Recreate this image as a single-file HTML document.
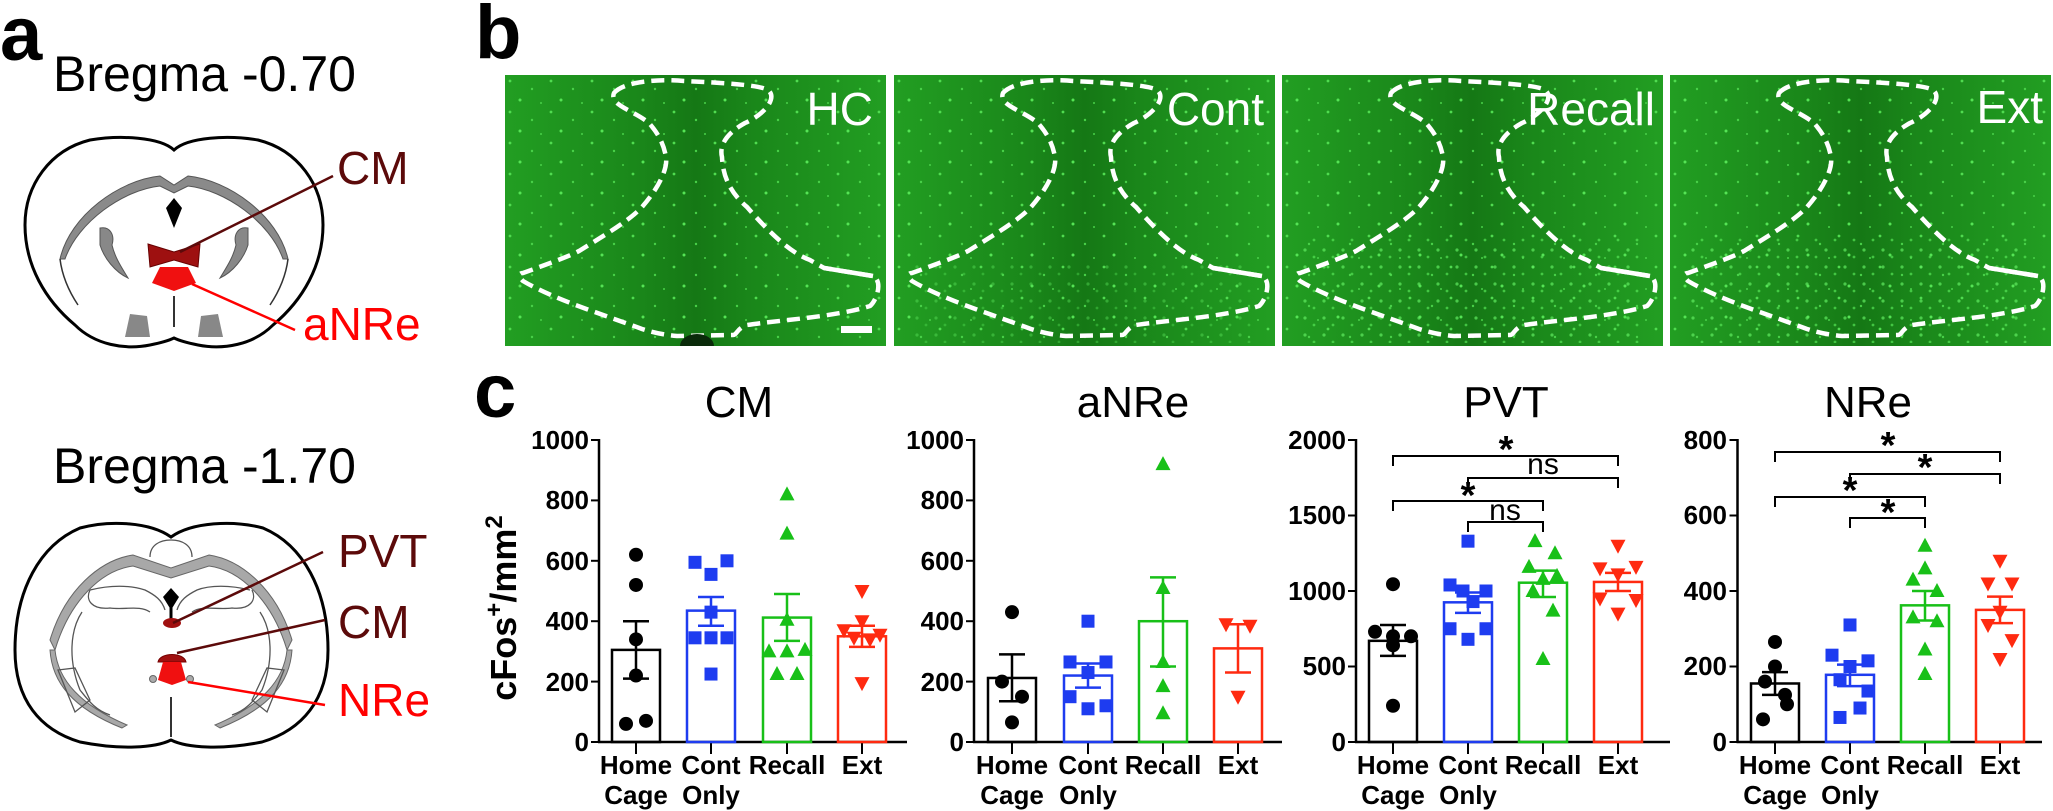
<!DOCTYPE html>
<html><head><meta charset="utf-8"><style>
html,body{margin:0;padding:0;background:#fff;}
svg{display:block;}
text{font-family:"Liberation Sans",Arial,sans-serif;}
.tk{font-size:26px;font-weight:bold;text-anchor:end;}
.xl{font-size:26px;font-weight:bold;text-anchor:middle;}
.ti{font-size:44px;text-anchor:middle;}
.st{font-size:38px;font-weight:bold;text-anchor:middle;}
.ns{font-size:30px;text-anchor:middle;}
.im{font-size:46px;fill:#fff;text-anchor:end;}
</style></head><body>
<svg id="s" width="2053" height="811" viewBox="0 0 2053 811" xmlns="http://www.w3.org/2000/svg">
<defs>
<linearGradient id="gg" x1="0" x2="1" y1="0" y2="0">
<stop offset="0" stop-color="#229e22"/><stop offset="0.35" stop-color="#1a871a"/><stop offset="0.5" stop-color="#157815"/><stop offset="0.65" stop-color="#1a871a"/><stop offset="1" stop-color="#229e22"/></linearGradient>
<pattern id="dots" width="41" height="31" patternUnits="userSpaceOnUse">
<circle cx="5" cy="6" r="1.4" fill="#50dc50"/><circle cx="27" cy="14" r="1.2" fill="#48d048"/><circle cx="15" cy="25" r="1.5" fill="#55e455"/><circle cx="36" cy="28" r="1" fill="#48d048"/></pattern>
<pattern id="dots2" width="19" height="17" patternUnits="userSpaceOnUse">
<circle cx="4" cy="5" r="1.6" fill="#60ec60"/><circle cx="13" cy="12" r="1.4" fill="#55e455"/></pattern>
<path id="roi" d="M109,18 C120,5 160,4 179,6 C220,8 255,10 263,15 C272,22 262,38 240,48 C222,58 214,70 217,82 C218,105 228,120 242,132 C262,155 285,178 305,185 L319,193 L368,201 C378,206 372,225 365,231 C330,242 275,245 242,250 C232,253 232,260 228,260 L172,261 C160,260 150,258 137,254 C100,240 50,225 18,206 C12,200 15,198 18,198 C40,190 65,181 74,176 C100,160 125,145 137,132 C152,115 163,95 161,82 C158,65 150,55 144,48 C128,35 104,30 109,18 Z"/>
</defs>

<!-- panel a -->
<text x="0" y="60" font-size="76" font-weight="bold">a</text>
<text x="53" y="91" font-size="50">Bregma -0.70</text>
<g stroke="#000" stroke-width="3" fill="#fff">
<path d="M174,150 C160,137 120,135 90,140 C50,150 25,185 25,225 C25,265 45,300 75,325 C95,345 125,350 150,345 C165,342 170,340 174,338 C178,340 183,342 198,345 C223,350 253,345 273,325 C303,300 323,265 323,225 C323,185 298,150 258,140 C228,135 188,137 174,150 Z"/>
</g>
<path d="M60,259 C70,215 120,180 160,176 L174,185 L188,176 C228,180 278,215 288,259 L283,259 C270,222 225,190 188,186 L174,193 L160,186 C123,190 78,222 65,259 Z" fill="#8a8a8a" stroke="#555" stroke-width="1"/>
<path d="M60,259 C62,275 68,290 78,305" stroke="#333" stroke-width="1.5" fill="none"/>
<path d="M288,259 C286,275 280,290 270,305" stroke="#333" stroke-width="1.5" fill="none"/>
<path d="M166,208 L174,198 L182,208 L174,228 Z" fill="#000"/>
<path d="M100,228 C110,226 115,235 112,245 C115,258 122,268 128,278 C115,272 104,258 100,245 Z" fill="#888" stroke="#555"/>
<path d="M248,228 C238,226 233,235 236,245 C233,258 226,268 220,278 C233,272 244,258 248,245 Z" fill="#888" stroke="#555"/>
<path d="M125,337 L130,314 L147,316 L150,337 Z" fill="#888"/>
<path d="M223,337 L218,314 L201,316 L198,337 Z" fill="#888"/>
<line x1="174" y1="296" x2="174" y2="327" stroke="#333" stroke-width="2"/>
<path d="M148,244 L174,252 L200,244 L198,267 L174,260 L150,267 Z" fill="#9e1010" stroke="#600" stroke-width="1"/>
<path d="M160,267 L188,267 L196,283 L174,291 L152,283 Z" fill="#f01010"/>
<line x1="333" y1="176" x2="180" y2="252" stroke="#5c0a0a" stroke-width="2.5"/>
<line x1="295" y1="330" x2="192" y2="284" stroke="#f00" stroke-width="2.5"/>
<text x="337" y="184" font-size="46" fill="#5c0a0a">CM</text>
<text x="303" y="340" font-size="46" fill="#f00">aNRe</text>

<text x="53" y="483" font-size="50">Bregma -1.70</text>
<path d="M171,537 C150,522 110,520 80,528 C40,545 15,590 15,650 C15,700 40,730 80,742 C120,750 155,748 171,740 C187,748 222,750 262,742 C302,730 328,700 328,650 C328,590 303,545 263,528 C233,520 192,522 171,537 Z" fill="#fff" stroke="#000" stroke-width="3"/>
<path d="M50,640 C65,590 100,560 133,555 L171,568 L209,555 C242,560 277,590 292,640 L287,650 C272,600 240,570 209,566 L171,578 L133,566 C102,570 70,600 55,650 Z" fill="#a8a8a8" stroke="#666" stroke-width="1"/>
<path d="M55,650 C58,680 80,705 127,725 L122,728 C72,708 52,682 50,650 Z" fill="#a8a8a8" stroke="#666" stroke-width="1"/>
<path d="M287,650 C284,680 262,705 215,725 L220,728 C270,708 290,682 292,650 Z" fill="#a8a8a8" stroke="#666" stroke-width="1"/>
<g fill="none" stroke="#555" stroke-width="1.3">
<path d="M150,557 C150,545 160,540 171,540 C182,540 192,545 192,557"/>
<path d="M90,590 C110,585 130,585 145,590 C155,595 162,600 165,610 M250,590 C230,585 210,585 197,590 C187,595 180,600 177,610"/>
<path d="M90,590 C85,600 92,610 110,608 C125,610 140,605 150,612 M252,590 C257,600 250,610 232,608 C217,610 202,605 192,612"/>
<path d="M82,612 C70,630 68,660 80,690 C88,700 95,710 110,715 M260,612 C272,630 274,660 262,690 C254,700 247,710 232,715"/>
<path d="M58,670 L75,668 L90,700 L75,712 Z M284,670 L267,668 L252,700 L267,712 Z"/>
</g>
<path d="M163,597 L171,588 L179,597 L171,610 Z" fill="#000"/>
<line x1="171" y1="605" x2="171" y2="620" stroke="#000" stroke-width="3"/>
<ellipse cx="172" cy="623" rx="9" ry="5" fill="#a01010"/>
<path d="M158,662 C160,652 184,652 186,662 Z" fill="#a01010" stroke="#700"/>
<path d="M163,662 L181,662 L186,680 L172,685 L158,680 Z" fill="#f01010"/>
<circle cx="153" cy="679" r="3.5" fill="#aaa" stroke="#666"/><circle cx="190" cy="679" r="3.5" fill="#aaa" stroke="#666"/>
<line x1="171" y1="697" x2="171" y2="737" stroke="#333" stroke-width="2"/>
<line x1="323" y1="552" x2="173" y2="623" stroke="#5c0a0a" stroke-width="2.5"/>
<line x1="325" y1="620" x2="177" y2="653" stroke="#5c0a0a" stroke-width="2.5"/>
<line x1="325" y1="705" x2="188" y2="682" stroke="#f00" stroke-width="2.5"/>
<text x="338" y="567" font-size="46" fill="#5c0a0a">PVT</text>
<text x="338" y="638" font-size="46" fill="#5c0a0a">CM</text>
<text x="338" y="716" font-size="46" fill="#f00">NRe</text>

<!-- panel b -->
<text x="475" y="58" font-size="76" font-weight="bold">b</text>
<g id="imgs"></g>
<text class="im" x="873" y="125">HC</text>
<text class="im" x="1264" y="125">Cont</text>
<text class="im" x="1655" y="125">Recall</text>
<text class="im" x="2043" y="123">Ext</text>

<!-- panel c -->
<text x="474" y="417" font-size="76" font-weight="bold">c</text>
<text transform="translate(516,608) rotate(-90)" font-size="36" font-weight="bold" text-anchor="middle">cFos<tspan font-size="24" dy="-14">+</tspan><tspan dy="14">/mm</tspan><tspan font-size="24" dy="-14">2</tspan></text>

<text class="ti" x="739" y="417">CM</text>
<text class="ti" x="1133" y="417">aNRe</text>
<text class="ti" x="1506" y="417">PVT</text>
<text class="ti" x="1868" y="417">NRe</text>

<g class="tk">
<text x="589" y="751">0</text><text x="589" y="691">200</text><text x="589" y="630">400</text><text x="589" y="570">600</text><text x="589" y="509">800</text><text x="589" y="449">1000</text>
<text x="964" y="751">0</text><text x="964" y="691">200</text><text x="964" y="630">400</text><text x="964" y="570">600</text><text x="964" y="509">800</text><text x="964" y="449">1000</text>
<text x="1346" y="751">0</text><text x="1346" y="675">500</text><text x="1346" y="600">1000</text><text x="1346" y="524">1500</text><text x="1346" y="449">2000</text>
<text x="1727" y="751">0</text><text x="1727" y="675">200</text><text x="1727" y="600">400</text><text x="1727" y="524">600</text><text x="1727" y="449">800</text>
</g>
<g class="xl">
<text x="636" y="774">Home</text><text x="636" y="804">Cage</text><text x="711" y="774">Cont</text><text x="711" y="804">Only</text><text x="787" y="774">Recall</text><text x="862" y="774">Ext</text>
<text x="1012" y="774">Home</text><text x="1012" y="804">Cage</text><text x="1088" y="774">Cont</text><text x="1088" y="804">Only</text><text x="1163" y="774">Recall</text><text x="1238" y="774">Ext</text>
<text x="1393" y="774">Home</text><text x="1393" y="804">Cage</text><text x="1468" y="774">Cont</text><text x="1468" y="804">Only</text><text x="1543" y="774">Recall</text><text x="1618" y="774">Ext</text>
<text x="1775" y="774">Home</text><text x="1775" y="804">Cage</text><text x="1850" y="774">Cont</text><text x="1850" y="804">Only</text><text x="1925" y="774">Recall</text><text x="2000" y="774">Ext</text>
</g>
<g fill="none" stroke="#000" stroke-width="2">
<path d="M1393,466 V456 H1618 V466"/><path d="M1468,488 V478 H1618 V488"/><path d="M1393,511 V501 H1543 V511"/><path d="M1468,532 V522 H1543 V532"/>
<path d="M1775,462 V452 H2000 V462"/><path d="M1850,484 V474 H2000 V484"/><path d="M1775,507 V497 H1925 V507"/><path d="M1850,528 V518 H1925 V528"/>
</g>
<text class="st" x="1506" y="462">*</text><text class="ns" x="1543" y="474">ns</text>
<text class="st" x="1468" y="508">*</text><text class="ns" x="1505" y="520">ns</text>
<text class="st" x="1888" y="458">*</text><text class="st" x="1925" y="480">*</text>
<text class="st" x="1850" y="503">*</text><text class="st" x="1888" y="525">*</text>
<g id="plots"></g>
</svg>
<script>
var NS="http://www.w3.org/2000/svg";
function el(p,t,a){var e=document.createElementNS(NS,t);for(var k in a)e.setAttribute(k,a[k]);p.appendChild(e);return e;}
var imgs=document.getElementById('imgs');
var xs=[505,894,1282,1670];
xs.forEach(function(x,i){
 var g=el(imgs,'g',{transform:'translate('+x+',75)'});
 el(g,'rect',{x:0,y:0,width:381,height:271,fill:'url(#gg)'});
 el(g,'rect',{x:0,y:0,width:381,height:271,fill:'url(#dots)'});
 if(i>=2){el(g,'rect',{x:20,y:160,width:340,height:108,fill:'url(#dots2)',opacity:0.7});}
 if(i==1){el(g,'rect',{x:20,y:190,width:340,height:78,fill:'url(#dots2)',opacity:0.4});}
 el(g,'use',{href:'#roi',fill:'none',stroke:'#fff','stroke-width':4.5,'stroke-dasharray':'13 7'});
 el(g,'path',{d:'M319,193 L368,201',stroke:'#fff','stroke-width':4.5,fill:'none'});
});
el(imgs,'rect',{x:841,y:326,width:31,height:7,fill:'#fff'});
el(imgs,'path',{d:'M680,346 A17,12 0 0 1 714,346 Z',fill:'#0a2a0a'});
var P=document.getElementById('plots');
var cols=['#000','#1e3cf0','#18c018','#ff2a10'];
var panels=[
 {ax:599,end:907,max:1000,step:200,tx:[636,711,787,862],d:[
  [305,210,400,[[0,620],[0,520],[0,340],[0,220],[-10,60],[10,70]]],
  [435,385,480,[[-16,595],[16,600],[0,555],[0,430],[-16,345],[0,345],[16,345],[0,225]]],
  [412,335,490,[[0,820],[0,690],[0,405],[-18,300],[0,300],[18,305],[-10,225],[10,225]]],
  [350,315,385,[[0,500],[0,400],[-18,370],[18,355],[-8,345],[8,340],[0,195]]]]},
 {ax:974,end:1282,max:1000,step:200,tx:[1012,1088,1163,1238],d:[
  [212,135,290,[[0,430],[-10,200],[10,150],[0,65]]],
  [220,180,260,[[0,400],[-18,265],[18,265],[0,230],[-18,150],[18,120],[0,110]]],
  [400,250,545,[[0,920],[0,510],[0,265],[0,185],[0,95]]],
  [310,230,390,[[-12,390],[12,385],[0,150]]]]},
 {ax:1356,end:1670,max:2000,step:500,tx:[1393,1468,1543,1618],d:[
  [670,570,775,[[0,1045],[-18,730],[0,700],[18,700],[0,640],[0,240]]],
  [925,855,990,[[0,1330],[-18,1040],[-5,1000],[18,1000],[5,930],[-18,750],[18,750],[0,680]]],
  [1055,960,1135,[[-8,1330],[12,1250],[-14,1160],[14,1100],[0,1080],[-10,1000],[10,870],[0,550]]],
  [1060,1000,1120,[[0,1300],[-18,1150],[18,1160],[0,1110],[-18,950],[18,940],[0,850]]]]},
 {ax:1737.5,end:2042,max:800,step:200,tx:[1775,1850,1925,2000],d:[
  [155,125,185,[[0,265],[0,200],[-10,160],[10,125],[12,100],[-12,60]]],
  [178,148,205,[[0,310],[-18,230],[18,215],[0,200],[-10,165],[18,135],[10,90],[-10,65]]],
  [362,322,400,[[0,520],[0,460],[-12,430],[12,400],[-12,330],[12,320],[0,245],[0,180]]],
  [350,315,385,[[0,480],[-12,420],[12,420],[0,345],[-12,310],[12,270],[0,220]]]]}
];
panels.forEach(function(p){
 var Y=function(v){return 742-v/p.max*302;};
 el(P,'line',{x1:p.ax,y1:439,x2:p.ax,y2:743,stroke:'#000','stroke-width':2.5});
 el(P,'line',{x1:p.ax-1,y1:742,x2:p.end,y2:742,stroke:'#000','stroke-width':2.5});
 for(var v=0;v<=p.max;v+=p.step){
  el(P,'line',{x1:p.ax-8,y1:Y(v),x2:p.ax,y2:Y(v),stroke:'#000','stroke-width':2});}
 p.tx.forEach(function(x){el(P,'line',{x1:x,y1:742,x2:x,y2:754,stroke:'#000','stroke-width':2});});
 p.d.forEach(function(g,i){
  var x=p.tx[i],c=cols[i];
  el(P,'rect',{x:x-24,y:Y(g[0]),width:48,height:742-Y(g[0]),fill:'none',stroke:c,'stroke-width':2.5});
  el(P,'line',{x1:x,y1:Y(g[1]),x2:x,y2:Y(g[2]),stroke:c,'stroke-width':2.5});
  el(P,'line',{x1:x-13,y1:Y(g[1]),x2:x+13,y2:Y(g[1]),stroke:c,'stroke-width':2.5});
  el(P,'line',{x1:x-13,y1:Y(g[2]),x2:x+13,y2:Y(g[2]),stroke:c,'stroke-width':2.5});
  g[3].forEach(function(pt){
   var cx=x+pt[0],cy=Y(pt[1]);
   if(i==0)el(P,'circle',{cx:cx,cy:cy,r:7,fill:c});
   else if(i==1)el(P,'rect',{x:cx-6.5,y:cy-6.5,width:13,height:13,fill:c});
   else if(i==2)el(P,'path',{d:'M'+cx+','+(cy-8)+' l7.5,14 h-15 z',fill:c});
   else el(P,'path',{d:'M'+cx+','+(cy+8)+' l7.5,-14 h-15 z',fill:c});
  });
 });
});
</script>
</body></html>
